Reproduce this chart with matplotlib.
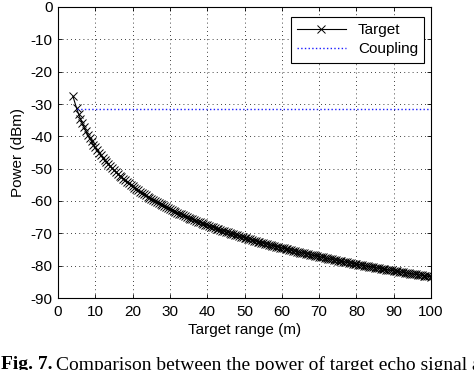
import numpy as np
import matplotlib
matplotlib.use("Agg")
import matplotlib.pyplot as plt

plt.rcParams['font.family'] = ['Liberation Sans', 'DejaVu Sans']
plt.rcParams['axes.unicode_minus'] = False

# Target echo power (dBm) vs target range (m)
target_range = [4.0] + list(np.arange(5.0, 100.5, 0.5))
target_power = [
    -27.6,
    -31.38, -33.03, -34.55, -35.94, -37.22, -38.42, -39.54, -40.60, -41.59, -42.53,
    -43.42, -44.27, -45.08, -45.85, -46.59, -47.30, -47.98, -48.63, -49.27, -49.87,
    -50.46, -51.03, -51.58, -52.12, -52.64, -53.14, -53.63, -54.11, -54.57, -55.02,
    -55.46, -55.89, -56.31, -56.72, -57.12, -57.51, -57.89, -58.26, -58.63, -58.99,
    -59.34, -59.68, -60.02, -60.35, -60.67, -60.99, -61.31, -61.61, -61.92, -62.21,
    -62.50, -62.79, -63.07, -63.35, -63.63, -63.90, -64.16, -64.42, -64.68, -64.93,
    -65.18, -65.43, -65.67, -65.91, -66.15, -66.38, -66.61, -66.84, -67.06, -67.28,
    -67.50, -67.72, -67.93, -68.14, -68.35, -68.56, -68.76, -68.96, -69.16, -69.35,
    -69.55, -69.74, -69.93, -70.12, -70.30, -70.49, -70.67, -70.85, -71.03, -71.20,
    -71.38, -71.55, -71.72, -71.89, -72.06, -72.23, -72.39, -72.55, -72.72, -72.88,
    -73.03, -73.19, -73.35, -73.50, -73.65, -73.81, -73.96, -74.11, -74.25, -74.40,
    -74.55, -74.69, -74.83, -74.98, -75.12, -75.26, -75.39, -75.53, -75.67, -75.80,
    -75.94, -76.07, -76.20, -76.33, -76.46, -76.59, -76.72, -76.85, -76.97, -77.10,
    -77.22, -77.35, -77.47, -77.59, -77.71, -77.83, -77.95, -78.07, -78.19, -78.31,
    -78.42, -78.54, -78.65, -78.77, -78.88, -78.99, -79.10, -79.21, -79.33, -79.43,
    -79.54, -79.65, -79.76, -79.87, -79.97, -80.08, -80.18, -80.29, -80.39, -80.49,
    -80.60, -80.70, -80.80, -80.90, -81.00, -81.10, -81.20, -81.30, -81.40, -81.49,
    -81.59, -81.69, -81.78, -81.88, -81.97, -82.07, -82.16, -82.25, -82.35, -82.44,
    -82.53, -82.62, -82.71, -82.80, -82.89, -82.98, -83.07, -83.16, -83.25, -83.33,
    -83.42,
]

coupling_range = [5.0, 100.0]
coupling_power = [-31.5, -31.5]

x_ticks = [0, 10, 20, 30, 40, 50, 60, 70, 80, 90, 100]
y_ticks = [0, -10, -20, -30, -40, -50, -60, -70, -80, -90]

fig = plt.figure(figsize=(4.74, 3.70), dpi=100)
ax = fig.add_axes([58/474, 1-298/370, (431-58)/474, (298-7)/370])

ax.plot(target_range, target_power, color='black', linewidth=0.8,
        marker='x', markersize=6, markeredgewidth=0.7, label='Target')
ax.plot(coupling_range, coupling_power, color='#1a1aff', linestyle=':',
        linewidth=1.0, label='Coupling')

ax.set_xlim(0, 100)
ax.set_ylim(-90, 0)
ax.set_xticks(x_ticks)
ax.set_yticks(y_ticks)
ax.tick_params(direction='in', length=3, labelsize=11, width=0.6,
               top=True, right=True)
ax.tick_params(axis='x', pad=5)
ax.tick_params(axis='y', pad=4)
ax.grid(True, color='black', linestyle=(0, (1, 4)), linewidth=0.6)
for s in ax.spines.values():
    s.set_linewidth(0.8)

ax.set_xlabel('Target range (m)', fontsize=11, labelpad=3)
ax.set_ylabel('Power (dBm)', fontsize=11, labelpad=4)

leg = ax.legend(loc='upper right', fontsize=11, fancybox=False,
                edgecolor='black', framealpha=1,
                bbox_to_anchor=(1 - 7/373, 1 - 10/291),
                borderaxespad=0.0, handlelength=3.2, borderpad=0.4,
                labelspacing=0.35)
leg.get_frame().set_linewidth(0.8)

cap_y = 1 - 356/370
t1 = fig.text(0.002, cap_y, 'Fig. 7.', fontsize=14, family='Liberation Serif',
              fontweight='bold', va='top', ha='left')
fig.canvas.draw()
bb = t1.get_window_extent(renderer=fig.canvas.get_renderer())
fig.text((bb.x1 + 4) / fig.bbox.width, cap_y,
         'Comparison between the power of target echo signal and the coupling',
         fontsize=14, family='Liberation Serif', va='top', ha='left')

fig.savefig('out.png', dpi=100)
